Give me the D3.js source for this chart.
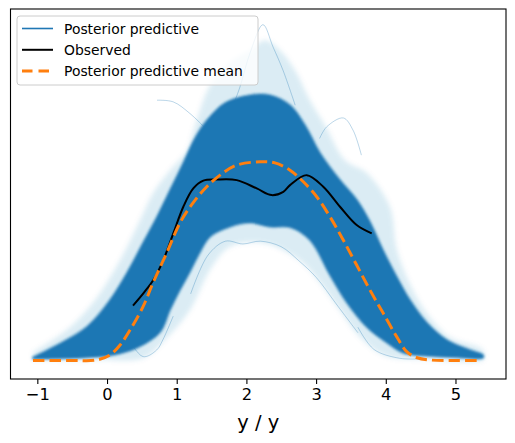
<!DOCTYPE html>
<html>
<head>
<meta charset="utf-8">
<script src="https://cdn.jsdelivr.net/npm/d3@7"></script>
<style>
  body { margin: 0; background: #fff; }
  text { font-family: "DejaVu Sans", sans-serif; }
</style>
</head>
<body>
<div id="chart"></div>
<script>
// values, [x, density]
var observed = [[0.373,0.099],[0.521,0.121],[0.664,0.145],[0.808,0.181],[0.951,0.229],[1.095,0.277],
  [1.238,0.310],[1.382,0.324],[1.574,0.326],[1.861,0.325],[2.148,0.310],[2.363,0.298],[2.530,0.304],
  [2.626,0.316],[2.865,0.334],[3.103,0.313],[3.343,0.277],[3.582,0.244],[3.798,0.229]];

var ppcMean = [[-1.062,0],[-0.5,0],[-0.148,0.001],[0.043,0.010],[0.187,0.028],[0.330,0.055],[0.517,0.097],
  [0.660,0.140],[0.857,0.194],[1.047,0.248],[1.234,0.284],[1.431,0.313],[1.622,0.334],[1.861,0.352],
  [2.195,0.358],[2.410,0.356],[2.626,0.343],[2.817,0.322],[3.009,0.295],[3.199,0.259],[3.390,0.217],
  [3.582,0.172],[3.773,0.127],[3.964,0.085],[4.156,0.043],[4.300,0.016],[4.45,0.005],[4.634,0.001],
  [5.0,0],[5.323,0]];

// where the posterior predictive curves are packed solid
var denseUpper = [[-1.062,0.006],[-0.775,0.024],[-0.287,0.061],[0.043,0.109],[0.287,0.158],[0.517,0.212],
  [0.717,0.259],[0.904,0.307],[1.090,0.355],[1.263,0.401],[1.435,0.433],[1.693,0.464],[2.052,0.478],
  [2.339,0.478],[2.626,0.460],[2.841,0.424],[3.056,0.374],[3.343,0.325],[3.587,0.289],[3.773,0.250],
  [3.960,0.199],[4.161,0.150],[4.347,0.109],[4.591,0.068],[4.878,0.037],[5.208,0.019],[5.395,0.010]];
var denseLower = [[-1.062,0.003],[-0.387,0.005],[0.086,0.010],[0.430,0.023],[0.760,0.051],[0.904,0.091],
  [1.047,0.127],[1.191,0.160],[1.334,0.195],[1.478,0.223],[1.765,0.241],[2.052,0.248],[2.339,0.241],
  [2.626,0.240],[2.912,0.217],[3.199,0.154],[3.443,0.104],[3.730,0.060],[4.017,0.032],[4.247,0.014],
  [4.634,0.008],[5.0,0.006],[5.395,0.005]];

// outer reach of the loose, faint curves
var outerUpper = [[-1.062,0.015],[-0.531,0.060],[-0.143,0.114],[0.187,0.181],[0.473,0.253],[0.660,0.302],
  [0.904,0.343],[1.148,0.379],[1.263,0.424],[1.478,0.496],[1.765,0.538],[2.052,0.559],[2.267,0.577],
  [2.482,0.559],[2.697,0.523],[2.912,0.469],[3.128,0.424],[3.415,0.361],[3.730,0.338],[4.060,0.277],
  [4.161,0.199],[4.390,0.127],[4.634,0.078],[4.921,0.042],[5.395,0.019]];
var outerLower = [[-1.062,0.001],[-0.100,0.001],[0.517,0.004],[0.832,0.037],[1.191,0.091],[1.478,0.163],
  [1.765,0.205],[2.267,0.211],[2.767,0.18],[3.056,0.14],[3.343,0.09],[3.630,0.042],[4.0,0.008],
  [4.634,0.002],[5.395,0.001]];

// a few single stray draws
var strays = [
  [[1.75,0.44],[1.908,0.493],[2.052,0.554],[2.238,0.605],[2.382,0.565],[2.525,0.523],[2.70,0.46]],
  [[0.717,0.469],[0.95,0.466],[1.19,0.445],[1.40,0.42]],
  [[3.05,0.40],[3.152,0.421],[3.391,0.437],[3.53,0.415],[3.65,0.37]],
  [[1.2,0.12],[1.45,0.19],[1.7,0.215],[1.95,0.21],[2.2,0.215],[2.5,0.205],[2.75,0.18],[3.0,0.15],[3.3,0.10],[3.6,0.05]],
  [[0.287,0.043],[0.517,0.007],[0.713,0.019],[0.80,0.037],[0.95,0.08]],
  [[3.6,0.06],[3.83,0.02],[4.2,0.004],[4.5,0.003]]
];

var xTicks = [-1, 0, 1, 2, 3, 4, 5];
var legendLabels = ["Posterior predictive", "Observed", "Posterior predictive mean"];

var W = 515, H = 443;
var plot = {left: 10.5, right: 506, top: 9, bottom: 379};
var blue = "#1f77b4", orange = "#ff7f0e";

var svg = d3.select("#chart").append("svg")
  .attr("width", W)
  .attr("height", H);

var x = d3.scaleLinear().domain([-1.385, 5.725]).range([plot.left, plot.right]);
var y = d3.scaleLinear().domain([-0.0333, 0.6333]).range([plot.bottom, plot.top]);

var defs = svg.append("defs");
defs.append("clipPath").attr("id", "clip")
  .append("rect")
    .attr("x", plot.left).attr("y", plot.top)
    .attr("width", plot.right - plot.left).attr("height", plot.bottom - plot.top);
// soft edge for the faint halo and the solid band
defs.append("filter").attr("id", "soft")
  .attr("x", "-5%").attr("y", "-5%").attr("width", "110%").attr("height", "110%")
  .append("feGaussianBlur").attr("stdDeviation", 2.5);
defs.append("filter").attr("id", "edge")
  .attr("x", "-5%").attr("y", "-5%").attr("width", "110%").attr("height", "110%")
  .append("feGaussianBlur").attr("stdDeviation", 0.8);

var line = d3.line()
  .x(function(d) { return x(d[0]); })
  .y(function(d) { return y(d[1]); })
  .curve(d3.curveCatmullRom.alpha(0.5));

// band = upper edge left to right, then lower edge back
function band(upper, lower) {
  return line(upper.concat(lower.slice().reverse())) + "Z";
}

var g = svg.append("g").attr("clip-path", "url(#clip)");

g.append("path")
  .attr("d", band(outerUpper, outerLower))
  .attr("fill", blue)
  .attr("fill-opacity", 0.14)
  .attr("filter", "url(#soft)");

g.selectAll(".stray")
  .data(strays)
  .enter().append("path")
    .attr("class", "stray")
    .attr("d", line)
    .attr("fill", "none")
    .attr("stroke", blue)
    .attr("stroke-opacity", 0.3)
    .attr("stroke-width", 1);

g.append("path")
  .attr("d", band(denseUpper, denseLower))
  .attr("fill", blue)
  .attr("stroke", blue)
  .attr("stroke-opacity", 0.45)
  .attr("stroke-width", 2.5)
  .attr("filter", "url(#edge)");

g.append("path")
  .attr("d", line(observed))
  .attr("fill", "none")
  .attr("stroke", "#000")
  .attr("stroke-width", 2);

g.append("path")
  .attr("d", line(ppcMean))
  .attr("fill", "none")
  .attr("stroke", orange)
  .attr("stroke-width", 3)
  .attr("stroke-dasharray", "11.5,5");

// frame
svg.append("rect")
  .attr("x", plot.left).attr("y", plot.top)
  .attr("width", plot.right - plot.left).attr("height", plot.bottom - plot.top)
  .attr("fill", "none")
  .attr("stroke", "#000")
  .attr("stroke-width", 1.1);

var xAxis = svg.append("g")
  .attr("transform", "translate(0," + plot.bottom + ")")
  .call(d3.axisBottom(x).tickValues(xTicks).tickSize(5).tickPadding(4).tickSizeOuter(0));
xAxis.select(".domain").remove();
xAxis.selectAll("line").attr("stroke-width", 1.1);
xAxis.selectAll("text")
  .attr("font-size", 16.3)
  .attr("fill", "#000")
  .style("font-family", '"DejaVu Sans", sans-serif');

svg.append("text")
  .attr("x", (plot.left + plot.right) / 2)
  .attr("y", 428.5)
  .attr("text-anchor", "middle")
  .attr("font-size", 19.5)
  .text("y / y");

// legend
var leg = svg.append("g");
leg.append("rect")
  .attr("x", 17).attr("y", 16)
  .attr("width", 241).attr("height", 69)
  .attr("rx", 3)
  .attr("fill", "#fff").attr("fill-opacity", 0.8)
  .attr("stroke", "#cccccc").attr("stroke-width", 1);

var legStyles = [
  {stroke: blue, width: 1.6, dash: null},
  {stroke: "#000", width: 2, dash: null},
  {stroke: orange, width: 3, dash: "10.5,6"}
];
legendLabels.forEach(function(label, i) {
  var yy = 28.5 + i * 21.3;
  leg.append("line")
    .attr("x1", 22).attr("x2", 53)
    .attr("y1", yy).attr("y2", yy)
    .attr("stroke", legStyles[i].stroke)
    .attr("stroke-width", legStyles[i].width)
    .attr("stroke-dasharray", legStyles[i].dash);
  leg.append("text")
    .attr("x", 64).attr("y", yy + 5)
    .attr("font-size", 13.9)
    .text(label);
});
</script>
</body>
</html>
